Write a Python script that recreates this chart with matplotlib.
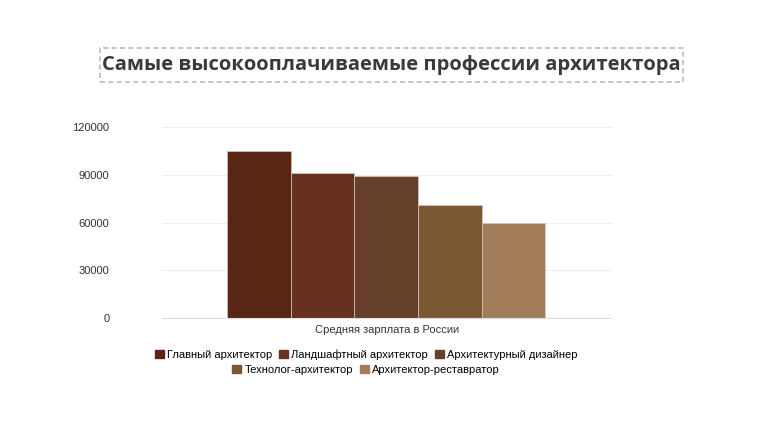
import matplotlib
matplotlib.use("Agg")
import matplotlib.pyplot as plt
from matplotlib.patches import Rectangle, Patch

categories = ["Главный архитектор", "Ландшафтный архитектор", "Архитектурный дизайнер",
              "Технолог-архитектор", "Архитектор-реставратор"]
values = [105000, 91000, 89000, 71000, 60000]
colors = ["#5a2614", "#67301f", "#66402a", "#7b5733", "#a37d5a"]
yticks = [0, 30000, 60000, 90000, 120000]

plt.rcParams["font.family"] = "Open Sans"
fig = plt.figure(figsize=(7.79, 4.34), dpi=100)
ax = fig.add_axes([0.208, 0.267, 0.578, 0.440])
for i, (c, v, col) in enumerate(zip(categories, values, colors)):
    ax.bar(i, v, width=1.0, color=col, edgecolor="#d8c8bc", linewidth=0.5, label=c, zorder=2)
ax.set_xlim(-1.52, 5.55)
ax.set_ylim(0, 120000)
ax.set_yticks(yticks)
ax.set_yticklabels([str(t) for t in yticks], fontsize=8, color="#333333", family="Liberation Sans")
ax.tick_params(axis="y", length=0, pad=38)
ax.set_xticks([])
ax.grid(axis="y", color="#eeeeee", linewidth=0.8, zorder=0)
for s in ["top", "right", "left"]:
    ax.spines[s].set_visible(False)
ax.spines["bottom"].set_color("#dddddd")
ax.text(0.5, -0.035, "Средняя зарплата в России", transform=ax.transAxes, ha="center", va="top",
        fontsize=8, color="#333333", family="Liberation Sans")

handles = [Patch(color=c) for c in colors]
fig.legend(handles[:3], categories[:3], loc="center", bbox_to_anchor=(0.47, 0.183), ncol=3,
           frameon=False, prop={"family": "Liberation Sans", "size": 8}, handlelength=0.8,
           handleheight=0.8, handletextpad=0.3, columnspacing=0.6)
fig.legend(handles[3:], categories[3:], loc="center", bbox_to_anchor=(0.47, 0.148), ncol=2,
           frameon=False, prop={"family": "Liberation Sans", "size": 8}, handlelength=0.8,
           handleheight=0.8, handletextpad=0.3, columnspacing=0.6)

fig.patches.append(Rectangle((100/779, 1-82/434), 583/779, 34/434, transform=fig.transFigure,
                             fill=False, edgecolor="#bbbbbb", linestyle=(0, (3, 2)), linewidth=1.2))
fig.text(391/779, 1-65/434, "Самые высокооплачиваемые профессии архитектора", ha="center", va="center",
         fontsize=14.5, fontweight="bold", color="#3a3a3a")
fig.savefig("out.png", dpi=100)
